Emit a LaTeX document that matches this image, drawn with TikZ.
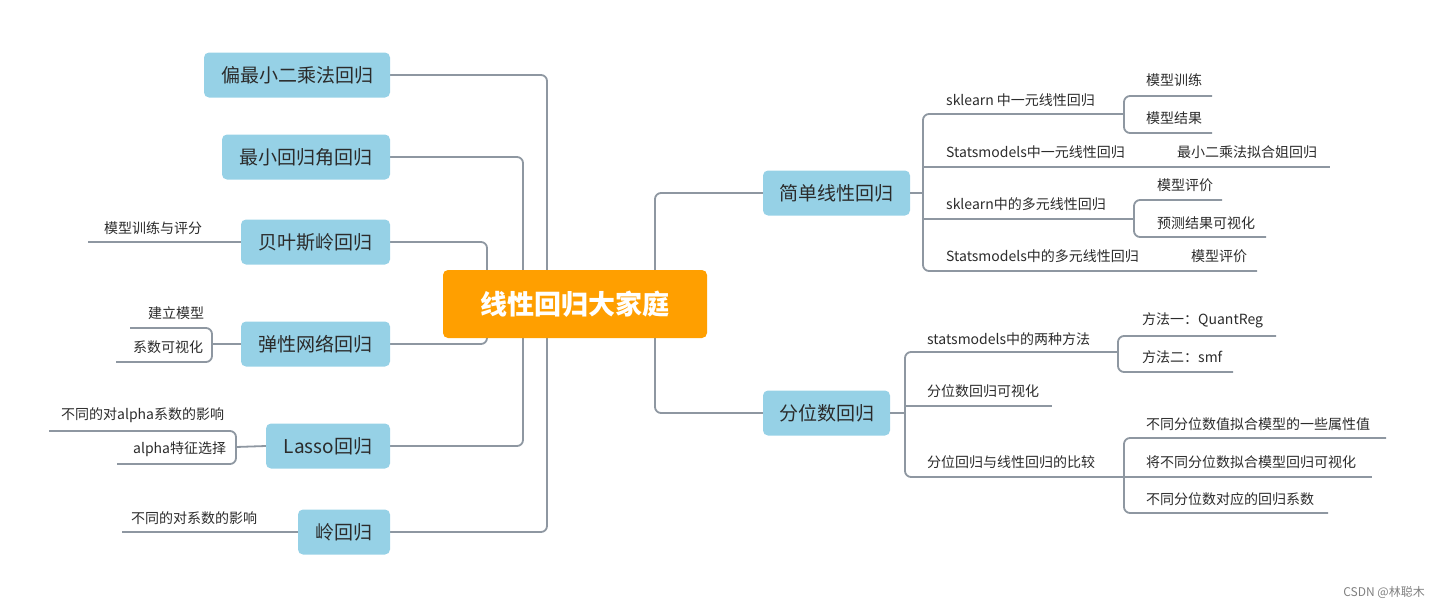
\documentclass[tikz,border=0pt]{standalone}
\usepackage{fontspec}
\setmainfont{Noto Sans CJK SC}
\begin{document}
\begin{tikzpicture}[x=1pt,y=-1pt,
  ln/.style={draw=lnc,line width=1.8pt,rounded corners=6pt},
  bx/.style={fill=boxc,rounded corners=5pt,minimum height=45pt,inner sep=0pt,font=\fontsize{19}{19}\selectfont,text=txt},
  lf/.style={anchor=west,inner sep=0pt,font=\fontsize{14}{14}\selectfont,text=txt}]
\definecolor{lnc}{HTML}{8E97A1}
\definecolor{boxc}{HTML}{96D1E6}
\definecolor{txt}{HTML}{2B2B2B}
\definecolor{orc}{HTML}{FF9F00}
\useasboundingbox (0,0) rectangle (1440,608);
% left trunks
\coordinate (r1) at (390,75); \coordinate (r6) at (390,532);
\draw[ln] (r1) -- (547,75) -- (547,532) -- (r6);
\draw[ln] (390,157) -- (523,157) -- (523,446) -- (390,446);
\draw[ln] (390,242) -- (487,242) -- (487,344) -- (390,344);
% right trunks
\draw[ln] (707,304) -- (655,304);
\draw[ln] (763,193) -- (655,193) -- (655,413) -- (763,413);
% root
\node[fill=orc,rounded corners=5pt,minimum width=264pt,minimum height=68pt,text=white,font=\fontsize{27}{27}\selectfont\bfseries] (root) at (575,304) {线性回归大家庭};
% left boxes
\node[bx,minimum width=186pt] (b1) at (297,75) {偏最小二乘法回归};
\node[bx,minimum width=168pt] (b2) at (306,157) {最小回归角回归};
\node[bx,minimum width=149pt] (b3) at (315.5,242) {贝叶斯岭回归};
\node[bx,minimum width=149pt] (b4) at (315.5,344) {弹性网络回归};
\node[bx,minimum width=124pt] (b5) at (328,446) {Lasso回归};
\node[bx,minimum width=92pt] (b6) at (344,532) {岭回归};
% left leaves
\draw[ln] (b3.west) -- (88,242);
\node[lf] (l31) at (104,228) {模型训练与评分};
\draw[ln] (b4.west) -- (212,344);
\draw[ln] (130,328) -- (212,328) -- (212,362) -- (116,362);
\node[lf] (l41) at (148,313) {建立模型};
\node[lf] (l42) at (133,347) {系数可视化};
\draw[ln] (b5.west) -- (236,447);
\draw[ln] (49,431) -- (236,431) -- (236,464) -- (117,464);
\node[lf] (l51) at (61,415) {不同的对alpha系数的影响};
\node[lf] (l52) at (133,449) {alpha特征选择};
\draw[ln] (b6.west) -- (122,532);
\node[lf] (l61) at (131,518) {不同的对系数的影响};
% right boxes
\node[bx,minimum width=147pt] (s1) at (836.5,193) {简单线性回归};
\node[bx,minimum width=127pt] (s2) at (826.5,413) {分位数回归};
% simple linear
\draw[ln] (s1.east) -- (923,193);
\draw[ln] (1124,114) -- (923,114) -- (923,271) -- (1257,271);
\draw[ln] (923,167) -- (1330,167);
\draw[ln] (923,219) -- (1134,219);
\node[lf] (a1) at (946,100) {sklearn 中一元线性回归};
\draw[ln] (1212,96) -- (1124,96) -- (1124,133) -- (1212,133);
\node[lf] (a11) at (1146,80) {模型训练};
\node[lf] (a12) at (1146,118) {模型结果};
\node[lf] (a2) at (946,152) {Statsmodels中一元线性回归};
\node[lf] (a21) at (1177,152) {最小二乘法拟合姐回归};
\node[lf] (a3) at (946,204) {sklearn中的多元线性回归};
\draw[ln] (1222,200) -- (1134,200) -- (1134,237) -- (1266,237);
\node[lf] (a31) at (1157,185) {模型评价};
\node[lf] (a32) at (1157,223) {预测结果可视化};
\node[lf] (a4) at (946,256) {Statsmodels中的多元线性回归};
\node[lf] (a41) at (1191,256) {模型评价};
% quantile
\draw[ln] (s2.east) -- (905,413);
\draw[ln] (1118,352) -- (905,352) -- (905,477) -- (1124,477);
\draw[ln] (905,406) -- (1052,406);
\node[lf] (q1) at (927,339) {statsmodels中的两种方法};
\draw[ln] (1276,336) -- (1118,336) -- (1118,372) -- (1233,372);
\node[lf] (q11) at (1142,320) {方法一：QuantReg};
\node[lf] (q12) at (1142,357) {方法二：smf};
\node[lf] (q2) at (927,391) {分位数回归可视化};
\node[lf] (q3) at (927,462) {分位回归与线性回归的比较};
\draw[ln] (1386,438) -- (1124,438) -- (1124,513) -- (1328,513);
\draw[ln] (1124,477) -- (1372,477);
\node[lf] (q31) at (1146,424) {不同分位数值拟合模型的一些属性值};
\node[lf] (q32) at (1146,462) {将不同分位数拟合模型回归可视化};
\node[lf] (q33) at (1146,499) {不同分位数对应的回归系数};
\node[anchor=east,inner sep=0pt,font=\fontsize{12}{12}\selectfont,text=gray] (wm) at (1425,592) {CSDN @林聪木};
\end{tikzpicture}
\end{document}
